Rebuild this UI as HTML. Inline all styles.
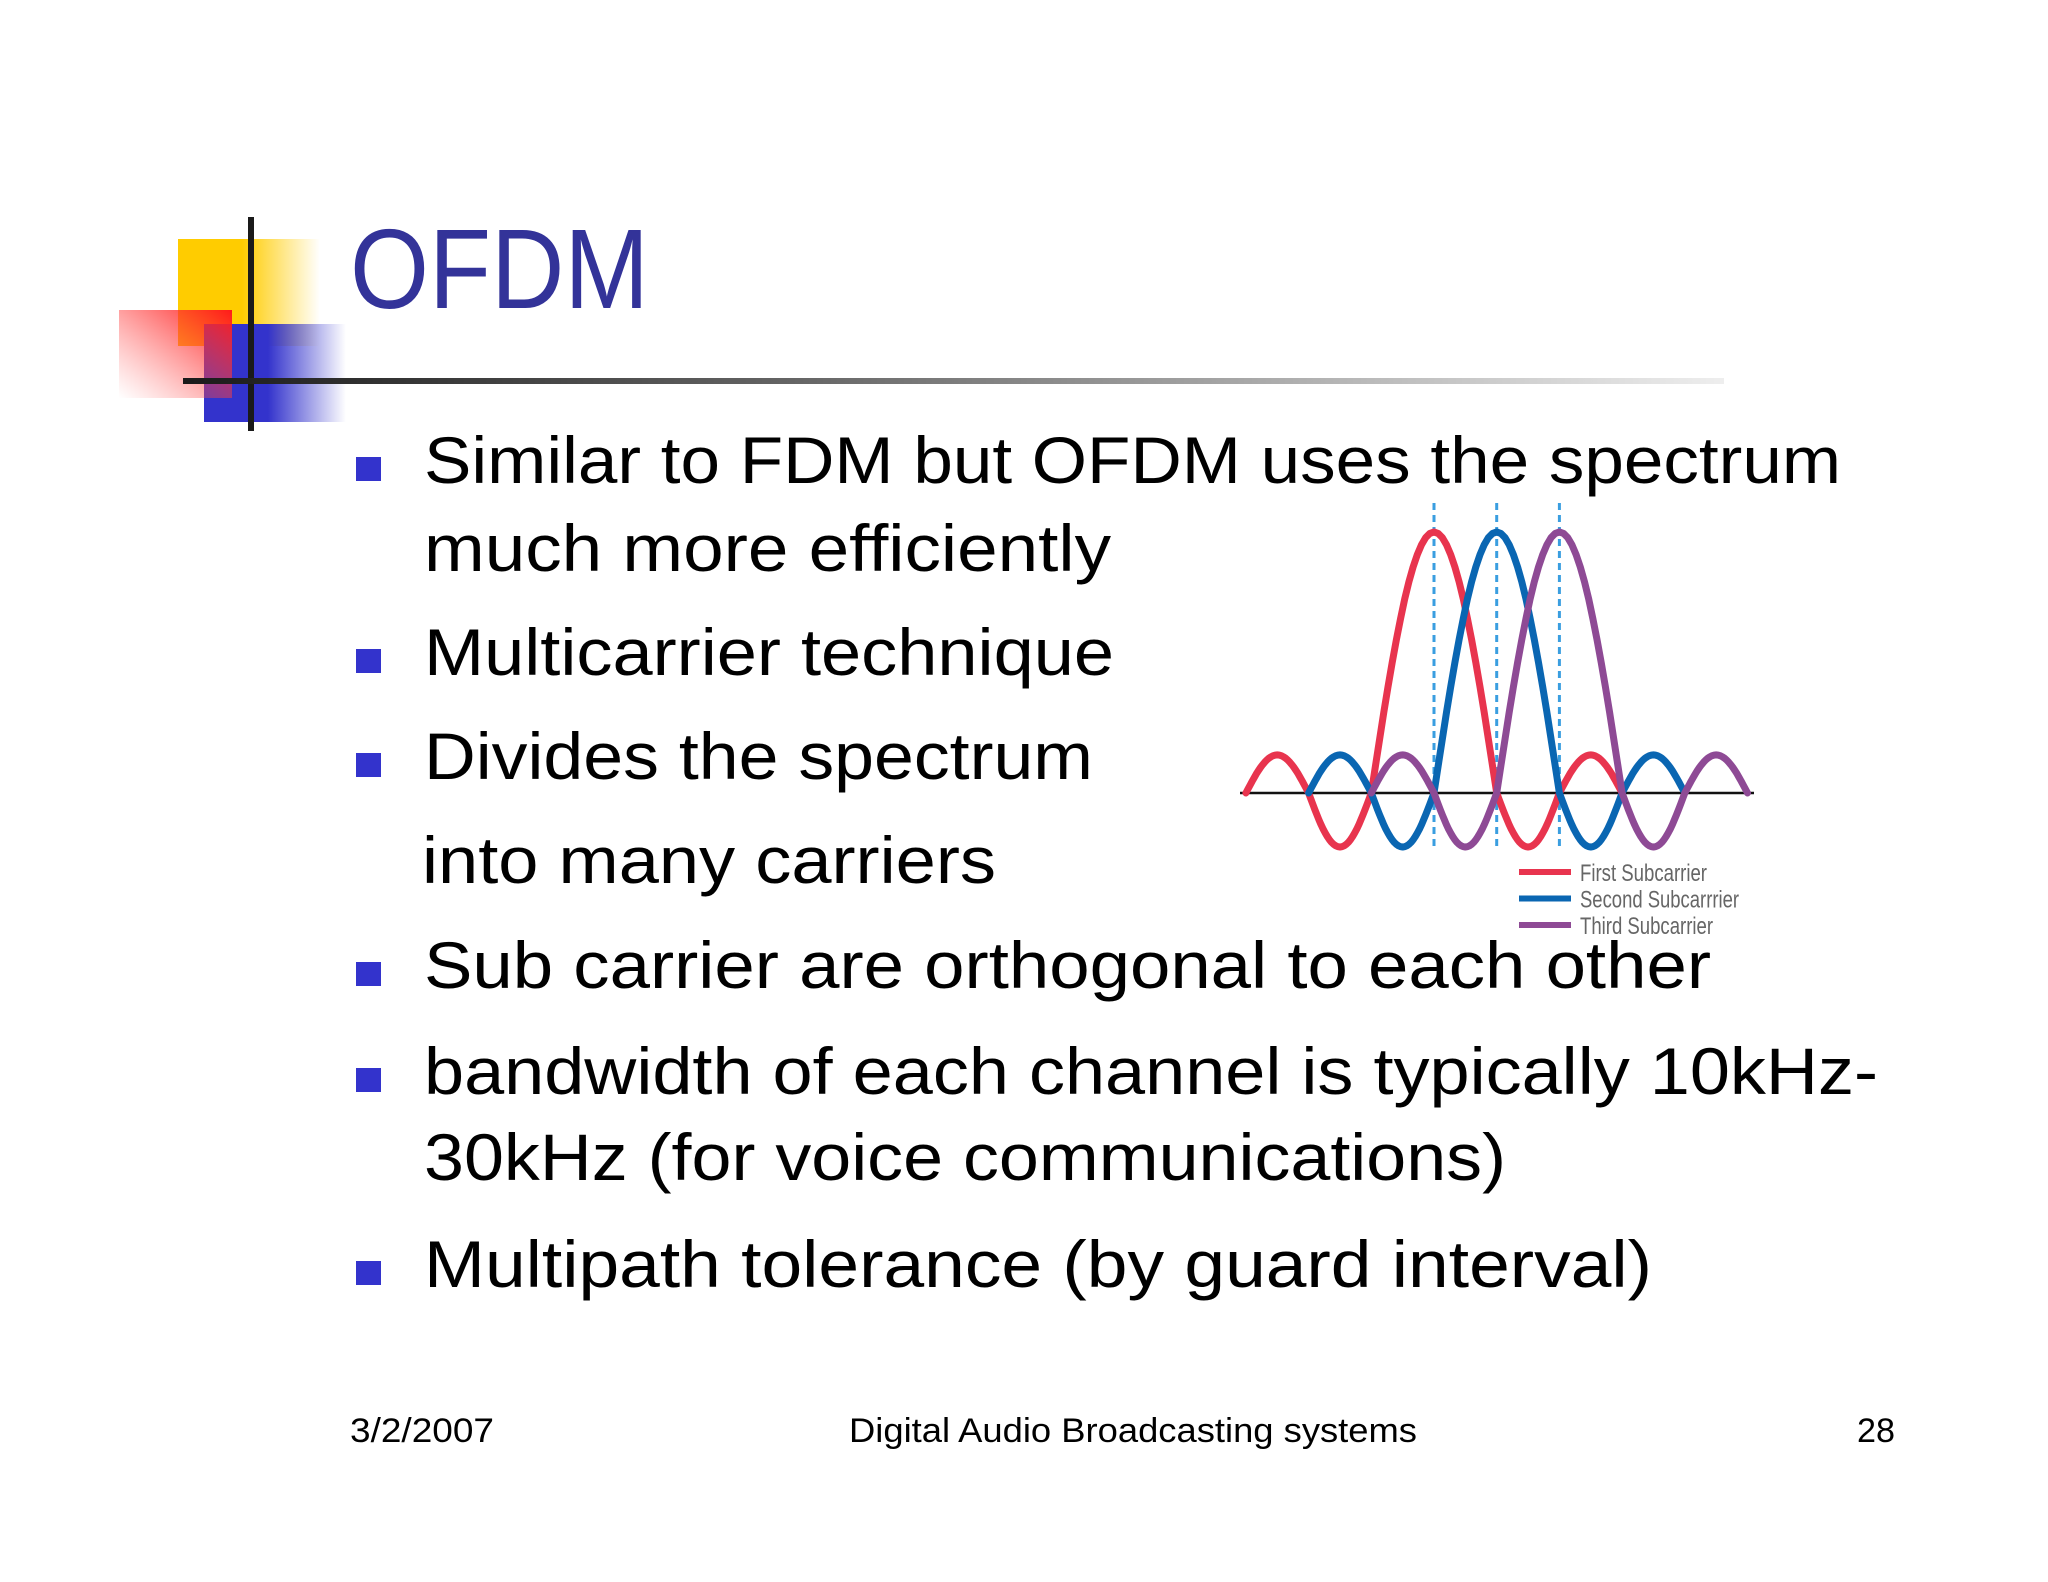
<!DOCTYPE html>
<html><head><meta charset="utf-8"><style>
html,body{margin:0;padding:0;background:#fff;}
svg{display:block;}
text{font-family:"Liberation Sans","DejaVu Sans",sans-serif;}
</style></head><body>
<svg id="slide" width="2048" height="1582" viewBox="0 0 2048 1582" xmlns="http://www.w3.org/2000/svg">
<defs>
<linearGradient id="gY" x1="0" x2="1" y1="0" y2="0"><stop offset="0" stop-color="#ffcc00"/><stop offset="0.45" stop-color="#ffcc00"/><stop offset="1" stop-color="#ffcc00" stop-opacity="0"/></linearGradient>
<linearGradient id="gB" x1="0" x2="1" y1="0" y2="0"><stop offset="0" stop-color="#3333cc"/><stop offset="0.45" stop-color="#3333cc"/><stop offset="1" stop-color="#3333cc" stop-opacity="0"/></linearGradient>
<linearGradient id="gR" x1="1" x2="0" y1="0" y2="1"><stop offset="0" stop-color="#ff1a1a"/><stop offset="1" stop-color="#ff6666" stop-opacity="0"/></linearGradient>
<linearGradient id="gL" x1="0" x2="1" y1="0" y2="0"><stop offset="0" stop-color="#1a1a1a"/><stop offset="0.4" stop-color="#666"/><stop offset="1" stop-color="#eee"/></linearGradient>
</defs>
<g>
<rect x="178" y="239" width="142" height="107" fill="url(#gY)"/>
<rect x="204" y="324" width="142" height="98" fill="url(#gB)"/>
<rect x="119" y="310" width="113" height="88" fill="url(#gR)"/>
<rect x="248" y="217" width="6" height="214" fill="#1a1a1a"/>
</g>
<rect x="183" y="378" width="1541" height="6" fill="url(#gL)"/>
<text x="350" y="308" font-size="113" fill="#333399" textLength="299" lengthAdjust="spacingAndGlyphs">OFDM</text>

<g font-size="66" fill="#000">
<rect x="356" y="457" width="25" height="24" fill="#3333cc"/>
<text x="424" y="483" textLength="1417" lengthAdjust="spacingAndGlyphs">Similar to FDM but OFDM uses the spectrum</text>
<text x="424" y="571" textLength="687" lengthAdjust="spacingAndGlyphs">much more efficiently</text>
<rect x="356" y="649" width="25" height="24" fill="#3333cc"/>
<text x="424" y="675" textLength="690" lengthAdjust="spacingAndGlyphs">Multicarrier technique</text>
<rect x="356" y="753" width="25" height="24" fill="#3333cc"/>
<text x="424" y="779" textLength="669" lengthAdjust="spacingAndGlyphs">Divides the spectrum</text>
<text x="422" y="883" textLength="574" lengthAdjust="spacingAndGlyphs">into many carriers</text>
<rect x="356" y="962" width="25" height="24" fill="#3333cc"/>
<text x="424" y="988" textLength="1287" lengthAdjust="spacingAndGlyphs">Sub carrier are orthogonal to each other</text>
<rect x="356" y="1068" width="25" height="24" fill="#3333cc"/>
<text x="424" y="1094" textLength="1454" lengthAdjust="spacingAndGlyphs">bandwidth of each channel is typically 10kHz-</text>
<text x="424" y="1180" textLength="1082" lengthAdjust="spacingAndGlyphs">30kHz (for voice communications)</text>
<rect x="356" y="1261" width="25" height="24" fill="#3333cc"/>
<text x="424" y="1287" textLength="1228" lengthAdjust="spacingAndGlyphs">Multipath tolerance (by guard interval)</text>
</g>

<g font-size="34" fill="#000">
<text x="350" y="1442" textLength="144" lengthAdjust="spacingAndGlyphs">3/2/2007</text>
<text x="849" y="1442" textLength="568" lengthAdjust="spacingAndGlyphs">Digital Audio Broadcasting  systems</text>
<text x="1857" y="1442" textLength="38" lengthAdjust="spacingAndGlyphs">28</text>
</g>

<g id="chart"></g>
</svg>
<script>
// chart data
const carrierNames = ["First Subcarrier", "Second Subcarrrier", "Third Subcarrier"];
const carrierCenters = [0, 1, 2];
const lobeAmps = [0.146, -0.207, 1, -0.207, 0.146];
const lobeStarts = [-3, -2, -1, 1, 2];
const lobeEnds = [-2, -1, 1, 2, 3];
const carrierColors = ["#e8344e", "#0a66b2", "#8e4a95"];

const NS = "http://www.w3.org/2000/svg";
const chart = document.getElementById("chart");
const xS = u => 1434 + u * 62.7;
const yS = v => 793 - v * 261;

function mk(tag, attrs) {
  const e = document.createElementNS(NS, tag);
  for (const k in attrs) e.setAttribute(k, attrs[k]);
  chart.appendChild(e);
  return e;
}
// dashed centre lines
carrierCenters.forEach(c => {
  const l = mk("line", {x1: xS(c), x2: xS(c), y1: 503, y2: 848, stroke: "#3a9ee0", "stroke-width": 3, "stroke-dasharray": "7 5"});
  
  
});
// axis
const ax = mk("line", {x1: 1240, x2: 1754, y1: yS(0), y2: yS(0), stroke: "#111", "stroke-width": 2.5});


// curves
carrierCenters.forEach((c, i) => {
  let d = "";
  lobeAmps.forEach((a, j) => {
    const s = lobeStarts[j], e = lobeEnds[j];
    for (let k = 0; k <= 30; k++) {
      const t = k / 30;
      const u = s + (e - s) * t;
      const v = a * Math.sin(Math.PI * t);
      d += (d === "" ? "M" : "L") + xS(c + u).toFixed(1) + "," + yS(v).toFixed(1);
    }
  });
  const p = mk("path", {d: d, fill: "none", stroke: carrierColors[i], "stroke-width": 7, "stroke-linejoin": "round", "stroke-linecap": "round"});
  
  
});
// legend
carrierNames.forEach((n, i) => {
  const y = 872 + i * 26.5;
  const l = mk("line", {x1: 1519, x2: 1571, y1: y, y2: y, stroke: carrierColors[i], "stroke-width": 6});
  
  
  const t = mk("text", {x: 1580, y: y + 9, "font-size": 24, fill: "#666", textLength: [127, 159, 133][i], lengthAdjust: "spacingAndGlyphs"});
  t.textContent = n;
  
  
});
</script>
</body></html>
